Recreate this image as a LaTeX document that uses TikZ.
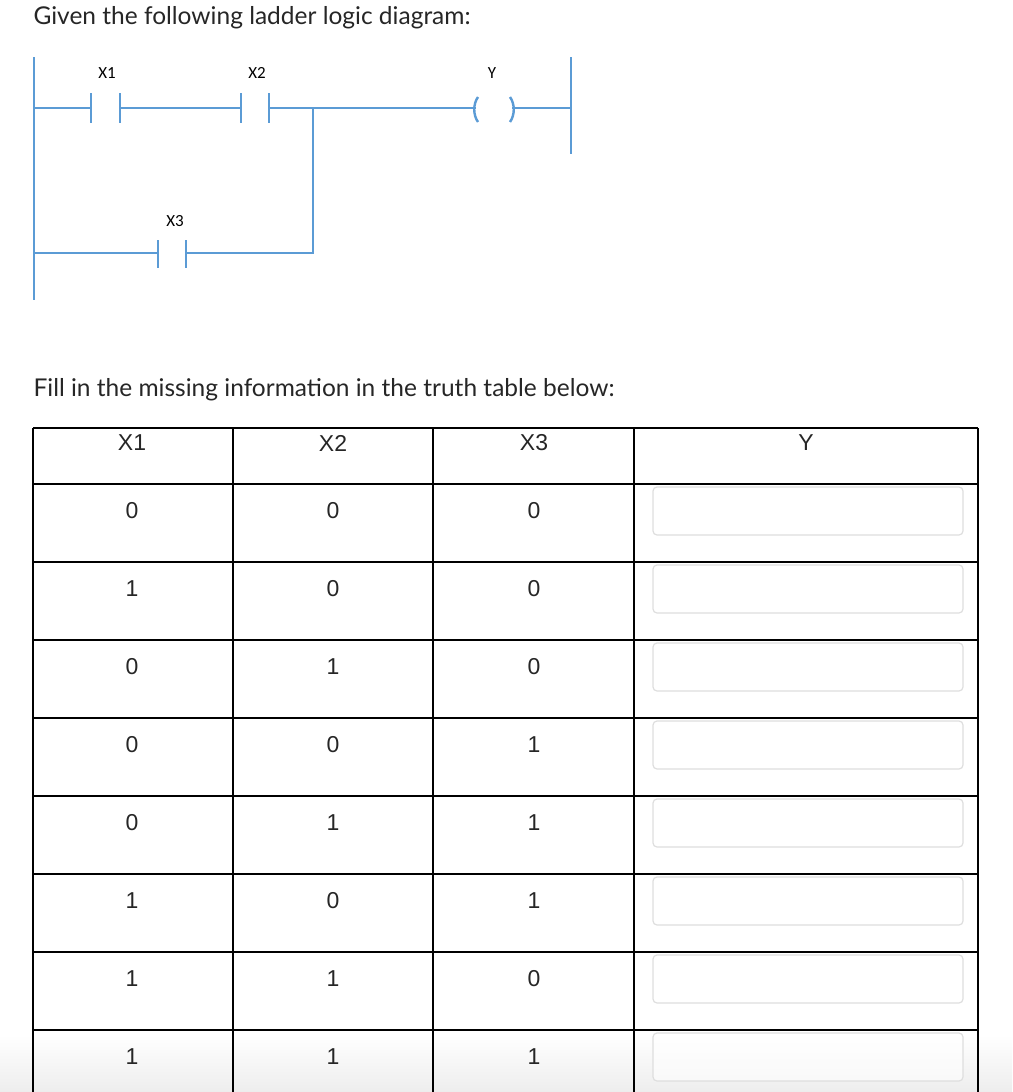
\documentclass[tikz,border=0pt]{standalone}
\usepackage{fontspec}
\setmainfont{Lato}
\newfontfamily\arialf{Liberation Sans}
\newfontfamily\calf{Carlito}
\begin{document}
\begin{tikzpicture}[x=1pt,y=-1pt,
  lad/.style={draw=ladblue,line width=2.4pt},
  grid/.style={draw=black,line width=1.8pt},
  cell/.style={font=\arialf\fontsize{23}{26}\selectfont,text=black!85},
  lbl/.style={font=\calf\fontsize{17}{19}\selectfont},
  ybox/.style={draw=black!13,line width=1.2pt,rounded corners=4pt}]
\definecolor{ladblue}{RGB}{91,155,213}
\useasboundingbox (0,0) rectangle (1012,1092);
\shade[top color=white,bottom color=black!7] (0,1035) rectangle (1012,1092);
\node[anchor=west,font=\fontsize{24.5}{28}\selectfont,text=black!85] (t1) at (30,18) {Given the following ladder logic diagram:};
\node[anchor=west,font=\fontsize{24.5}{28}\selectfont,text=black!85] (t2) at (30,390) {Fill in the missing information in the truth table below:};
% ladder
\coordinate (lt) at (34,57); \coordinate (lb) at (34,300);
\coordinate (rt) at (571,57); \coordinate (rb) at (571,154);
\draw[lad] (lt) -- (lb); \draw[lad] (rt) -- (rb);
\draw[lad] (34,108) -- (91,108); \draw[lad] (91,93) -- (91,123);
\draw[lad] (120,93) -- (120,123); \draw[lad] (120,108) -- (241,108);
\draw[lad] (241,93) -- (241,123); \draw[lad] (269,93) -- (269,123);
\draw[lad] (269,108) -- (476,108);
\draw[lad] (478,97) .. controls (473,104) and (473,115) .. (478,122);
\draw[lad] (510,97) .. controls (515,104) and (515,115) .. (510,122);
\draw[lad] (512,108) -- (571,108);
\draw[lad] (313,108) -- (313,253) -- (186,253);
\draw[lad] (34,253) -- (158,253);
\draw[lad] (158,240) -- (158,268); \draw[lad] (186,240) -- (186,268);
\node[lbl] (l1) at (107,73) {X1};
\node[lbl] (l2) at (257,73) {X2};
\node[lbl] (ly) at (492,73) {Y};
\node[lbl] (l3) at (175,221) {X3};
% table
\foreach \y in {428,484,562,640,718,796,874,952,1030} \draw[grid] (33,\y) -- (978,\y);
\foreach \x in {33,233,433,634,978} \draw[grid] (\x,428) -- (\x,1092);
\node[cell] (h1) at (132,443) {X1};
\node[cell] (h2) at (333,443) {X2};
\node[cell] (h3) at (534,443) {X3};
\node[cell] (h4) at (806,443) {Y};
\foreach \a/\b/\c [count=\i from 0] in {0/0/0,1/0/0,0/1/0,0/0/1,0/1/1,1/0/1,1/1/0,1/1/1}{
  \pgfmathsetmacro{\yy}{511+78*\i}
  \node[cell] (a\i) at (132,\yy) {\a};
  \node[cell] (b\i) at (333,\yy) {\b};
  \node[cell] (c\i) at (534,\yy) {\c};
  \pgfmathsetmacro{\ya}{487+78*\i}
  \pgfmathsetmacro{\yb}{535+78*\i}
  \draw[ybox,fill=white,fill opacity=0.6] (653,\ya) rectangle (963,\yb);
}
\end{tikzpicture}
\end{document}
